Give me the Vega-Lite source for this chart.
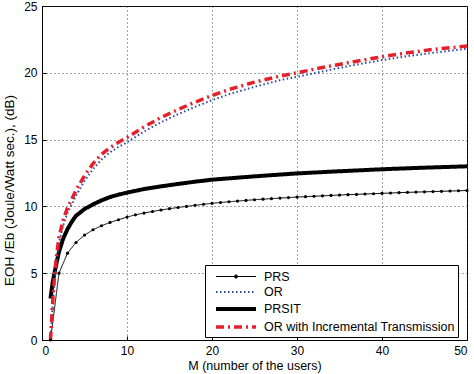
{
  "$schema": "https://vega.github.io/schema/vega-lite/v6.json",
  "width": 425,
  "height": 334,
  "autosize": {"type": "none"},
  "padding": {"left": 42, "top": 6, "right": 7, "bottom": 34},
  "background": "white",
  "config": {
    "font": "Liberation Sans",
    "view": {"stroke": "black", "strokeWidth": 1},
    "axis": {
      "labelFont": "Liberation Sans", "labelFontSize": 12, "labelColor": "black",
      "titleFont": "Liberation Sans", "titleFontSize": 12.5, "titleFontWeight": "normal", "titleColor": "black",
      "domainColor": "black", "tickColor": "black", "tickSize": -4,
      "gridColor": "#333", "gridDash": [1, 3], "gridOpacity": 0.9, "gridWidth": 1
    },
    "legend": {
      "labelFont": "Liberation Sans", "labelFontSize": 12.5, "labelColor": "black", "labelLimit": 400
    }
  },
  "datasets": {
    "curves": [
      {"M": 1, "v": 0, "s": "PRS"}, {"M": 2, "v": 5.0, "s": "PRS"}, {"M": 3, "v": 6.5, "s": "PRS"}, {"M": 4, "v": 7.3, "s": "PRS"}, {"M": 5, "v": 7.85, "s": "PRS"},
      {"M": 6, "v": 8.25, "s": "PRS"}, {"M": 7, "v": 8.55, "s": "PRS"}, {"M": 8, "v": 8.8, "s": "PRS"}, {"M": 9, "v": 9.0, "s": "PRS"}, {"M": 10, "v": 9.2, "s": "PRS"},
      {"M": 11, "v": 9.37, "s": "PRS"}, {"M": 12, "v": 9.5, "s": "PRS"}, {"M": 13, "v": 9.62, "s": "PRS"}, {"M": 14, "v": 9.73, "s": "PRS"}, {"M": 15, "v": 9.83, "s": "PRS"},
      {"M": 16, "v": 9.92, "s": "PRS"}, {"M": 17, "v": 10.0, "s": "PRS"}, {"M": 18, "v": 10.08, "s": "PRS"}, {"M": 19, "v": 10.16, "s": "PRS"}, {"M": 20, "v": 10.23, "s": "PRS"},
      {"M": 21, "v": 10.29, "s": "PRS"}, {"M": 22, "v": 10.35, "s": "PRS"}, {"M": 23, "v": 10.4, "s": "PRS"}, {"M": 24, "v": 10.45, "s": "PRS"}, {"M": 25, "v": 10.5, "s": "PRS"},
      {"M": 26, "v": 10.54, "s": "PRS"}, {"M": 27, "v": 10.58, "s": "PRS"}, {"M": 28, "v": 10.62, "s": "PRS"}, {"M": 29, "v": 10.66, "s": "PRS"}, {"M": 30, "v": 10.7, "s": "PRS"},
      {"M": 31, "v": 10.73, "s": "PRS"}, {"M": 32, "v": 10.76, "s": "PRS"}, {"M": 33, "v": 10.79, "s": "PRS"}, {"M": 34, "v": 10.82, "s": "PRS"}, {"M": 35, "v": 10.85, "s": "PRS"},
      {"M": 36, "v": 10.88, "s": "PRS"}, {"M": 37, "v": 10.9, "s": "PRS"}, {"M": 38, "v": 10.93, "s": "PRS"}, {"M": 39, "v": 10.95, "s": "PRS"}, {"M": 40, "v": 10.98, "s": "PRS"},
      {"M": 41, "v": 11.0, "s": "PRS"}, {"M": 42, "v": 11.03, "s": "PRS"}, {"M": 43, "v": 11.05, "s": "PRS"}, {"M": 44, "v": 11.07, "s": "PRS"}, {"M": 45, "v": 11.09, "s": "PRS"},
      {"M": 46, "v": 11.11, "s": "PRS"}, {"M": 47, "v": 11.13, "s": "PRS"}, {"M": 48, "v": 11.15, "s": "PRS"}, {"M": 49, "v": 11.17, "s": "PRS"}, {"M": 50, "v": 11.19, "s": "PRS"},

      {"M": 1, "v": 3.1, "s": "PRSIT"}, {"M": 1.25, "v": 4.3, "s": "PRSIT"}, {"M": 1.5, "v": 5.1, "s": "PRSIT"}, {"M": 1.75, "v": 5.9, "s": "PRSIT"}, {"M": 2, "v": 6.6, "s": "PRSIT"},
      {"M": 2.5, "v": 7.6, "s": "PRSIT"}, {"M": 3, "v": 8.3, "s": "PRSIT"}, {"M": 3.5, "v": 8.85, "s": "PRSIT"}, {"M": 4, "v": 9.3, "s": "PRSIT"}, {"M": 5, "v": 9.8, "s": "PRSIT"},
      {"M": 6, "v": 10.15, "s": "PRSIT"}, {"M": 7, "v": 10.45, "s": "PRSIT"}, {"M": 8, "v": 10.7, "s": "PRSIT"}, {"M": 9, "v": 10.88, "s": "PRSIT"}, {"M": 10, "v": 11.03, "s": "PRSIT"},
      {"M": 12, "v": 11.3, "s": "PRSIT"}, {"M": 14, "v": 11.5, "s": "PRSIT"}, {"M": 16, "v": 11.68, "s": "PRSIT"}, {"M": 18, "v": 11.85, "s": "PRSIT"}, {"M": 20, "v": 12.0, "s": "PRSIT"},
      {"M": 25, "v": 12.25, "s": "PRSIT"}, {"M": 30, "v": 12.47, "s": "PRSIT"}, {"M": 35, "v": 12.63, "s": "PRSIT"}, {"M": 40, "v": 12.78, "s": "PRSIT"}, {"M": 45, "v": 12.9, "s": "PRSIT"},
      {"M": 50, "v": 13.0, "s": "PRSIT"},

      {"M": 1, "v": 0, "s": "OR"}, {"M": 1.25, "v": 2.5, "s": "OR"}, {"M": 1.5, "v": 4.6, "s": "OR"}, {"M": 1.75, "v": 6.1, "s": "OR"}, {"M": 2, "v": 7.3, "s": "OR"},
      {"M": 2.5, "v": 8.6, "s": "OR"}, {"M": 3, "v": 9.5, "s": "OR"}, {"M": 4, "v": 10.8, "s": "OR"}, {"M": 5, "v": 11.9, "s": "OR"}, {"M": 6, "v": 12.8, "s": "OR"},
      {"M": 7, "v": 13.5, "s": "OR"}, {"M": 8, "v": 14.05, "s": "OR"}, {"M": 9, "v": 14.45, "s": "OR"}, {"M": 10, "v": 14.8, "s": "OR"}, {"M": 12, "v": 15.6, "s": "OR"},
      {"M": 14, "v": 16.3, "s": "OR"}, {"M": 16, "v": 16.9, "s": "OR"}, {"M": 18, "v": 17.45, "s": "OR"}, {"M": 20, "v": 17.95, "s": "OR"}, {"M": 22, "v": 18.4, "s": "OR"},
      {"M": 25, "v": 18.95, "s": "OR"}, {"M": 28, "v": 19.45, "s": "OR"}, {"M": 30, "v": 19.7, "s": "OR"}, {"M": 33, "v": 20.1, "s": "OR"}, {"M": 36, "v": 20.5, "s": "OR"},
      {"M": 40, "v": 20.95, "s": "OR"}, {"M": 43, "v": 21.25, "s": "OR"}, {"M": 46, "v": 21.5, "s": "OR"}, {"M": 50, "v": 21.8, "s": "OR"},

      {"M": 1, "v": 0, "s": "OR with Incremental Transmission"}, {"M": 1.25, "v": 2.8, "s": "OR with Incremental Transmission"}, {"M": 1.5, "v": 5.0, "s": "OR with Incremental Transmission"},
      {"M": 1.75, "v": 6.5, "s": "OR with Incremental Transmission"}, {"M": 2, "v": 7.7, "s": "OR with Incremental Transmission"}, {"M": 2.5, "v": 9.0, "s": "OR with Incremental Transmission"},
      {"M": 3, "v": 9.9, "s": "OR with Incremental Transmission"}, {"M": 4, "v": 11.2, "s": "OR with Incremental Transmission"}, {"M": 5, "v": 12.3, "s": "OR with Incremental Transmission"},
      {"M": 6, "v": 13.2, "s": "OR with Incremental Transmission"}, {"M": 7, "v": 13.9, "s": "OR with Incremental Transmission"}, {"M": 8, "v": 14.4, "s": "OR with Incremental Transmission"},
      {"M": 9, "v": 14.8, "s": "OR with Incremental Transmission"}, {"M": 10, "v": 15.15, "s": "OR with Incremental Transmission"}, {"M": 12, "v": 15.95, "s": "OR with Incremental Transmission"},
      {"M": 14, "v": 16.65, "s": "OR with Incremental Transmission"}, {"M": 16, "v": 17.25, "s": "OR with Incremental Transmission"}, {"M": 18, "v": 17.8, "s": "OR with Incremental Transmission"},
      {"M": 20, "v": 18.3, "s": "OR with Incremental Transmission"}, {"M": 22, "v": 18.75, "s": "OR with Incremental Transmission"}, {"M": 25, "v": 19.3, "s": "OR with Incremental Transmission"},
      {"M": 28, "v": 19.75, "s": "OR with Incremental Transmission"}, {"M": 30, "v": 20.0, "s": "OR with Incremental Transmission"}, {"M": 33, "v": 20.4, "s": "OR with Incremental Transmission"},
      {"M": 36, "v": 20.75, "s": "OR with Incremental Transmission"}, {"M": 40, "v": 21.2, "s": "OR with Incremental Transmission"}, {"M": 43, "v": 21.5, "s": "OR with Incremental Transmission"},
      {"M": 46, "v": 21.75, "s": "OR with Incremental Transmission"}, {"M": 50, "v": 22.0, "s": "OR with Incremental Transmission"}
    ]
  },
  "data": {"name": "curves"},
  "encoding": {
    "x": {
      "field": "M", "type": "quantitative",
      "scale": {"domain": [0, 50], "nice": false},
      "axis": {"values": [0, 10, 20, 30, 40, 50], "title": "M (number of the users)", "labelPadding": 9, "titlePadding": 3, "grid": true}
    },
    "y": {
      "field": "v", "type": "quantitative",
      "scale": {"domain": [0, 25], "nice": false},
      "axis": {"values": [0, 5, 10, 15, 20, 25], "title": "EOH /Eb (Joule/Watt sec.), (dB)", "titleFontSize": 13.5, "titleX": -26, "titleY": 184, "titleAlign": "center", "titleAngle": -90, "labelPadding": 9, "grid": true}
    }
  },
  "layer": [
    {
      "mark": {"type": "line", "clip": true},
      "encoding": {
        "color": {
          "field": "s", "type": "nominal",
          "scale": {"domain": ["PRS", "OR", "PRSIT", "OR with Incremental Transmission"], "range": ["black", "#2b4a9e", "black", "#e3202b"]},
          "legend": {
            "title": null, "orient": "none", "legendX": 163, "legendY": 259,
            "symbolType": "M-1,0H4", "symbolSize": 256, "symbolFillColor": "transparent",
            "symbolOffset": 6, "fillColor": "white", "strokeColor": "black", "padding": 3,
            "rowPadding": 0, "labelOffset": 30, "labelLimit": 400,
            "encode": {
              "symbols": {
                "update": {
                  "shape": {"signal": "datum.value === 'PRS' ? 'M-1,0H4M1.3,0A0.2,0.2 0 1 0 1.7,0A0.2,0.2 0 1 0 1.3,0' : 'M-1,0H4'"},
                  "fill": {"signal": "datum.value === 'PRS' ? 'black' : 'transparent'"}
                }
              }
            }
          }
        },
        "strokeDash": {
          "field": "s", "type": "nominal",
          "scale": {"domain": ["PRS", "OR", "PRSIT", "OR with Incremental Transmission"], "range": [[1, 0], [1.5, 2.5], [1, 0], [8, 4, 2, 4]]}
        },
        "strokeWidth": {
          "field": "s", "type": "ordinal",
          "scale": {"type": "ordinal", "domain": ["PRS", "OR", "PRSIT", "OR with Incremental Transmission"], "range": [1, 2, 4, 3.5]}
        }
      }
    },
    {
      "transform": [{"filter": "datum.s === 'PRS'"}],
      "mark": {"type": "point", "filled": true, "color": "black", "size": 10, "opacity": 1}
    }
  ]
}
